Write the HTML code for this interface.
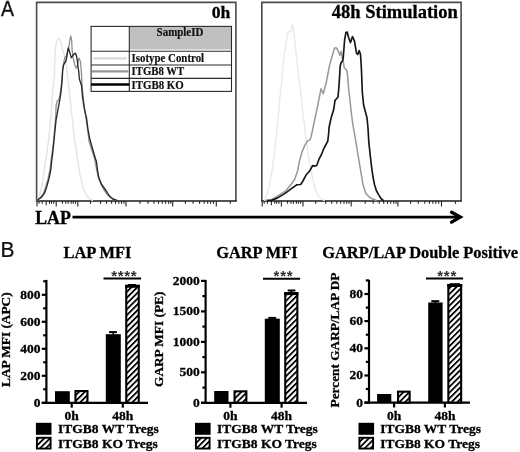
<!DOCTYPE html>
<html><head><meta charset="utf-8"><title>Figure</title>
<style>
html,body{margin:0;padding:0;background:#fff;}
body{width:520px;height:452px;overflow:hidden;}
svg{display:block;}
</style></head>
<body>
<svg width="520" height="452" viewBox="0 0 520 452">
<defs>
<pattern id="hatch" patternUnits="userSpaceOnUse" width="4.1" height="4.1" patternTransform="rotate(45)">
<rect x="0" y="0" width="4.1" height="4.1" fill="#fff"/>
<rect x="0" y="0" width="1.8" height="4.1" fill="#000"/>
</pattern>
</defs>
<rect width="520" height="452" fill="#fff"/>
<text transform="translate(1.0,15.9) scale(0.92,1)" font-family="'Liberation Sans', Arial, sans-serif" font-size="21.2" fill="#111" stroke="#111" stroke-width="0.35">A</text>
<path d="M36.6,201.2 V2.4 H235.9 V201.2" fill="none" stroke="#4a4a4a" stroke-width="1.6"/>
<line x1="36.2" y1="201.1" x2="236.6" y2="201.1" stroke="#1a1a1a" stroke-width="1.5"/>
<g stroke="#262626" stroke-width="1.1"><line x1="37.0" y1="201" x2="37.0" y2="206.6"/>
<line x1="39.0" y1="201" x2="39.0" y2="203.8"/>
<line x1="42.2" y1="201" x2="42.2" y2="203.8"/>
<line x1="46.2" y1="201" x2="46.2" y2="205.2"/>
<line x1="49.5" y1="201" x2="49.5" y2="203.8"/>
<line x1="51.5" y1="201" x2="51.5" y2="203.8"/>
<line x1="53.7" y1="201" x2="53.7" y2="203.8"/>
<line x1="56.2" y1="201" x2="56.2" y2="206.6"/>
<line x1="62.4" y1="201" x2="62.4" y2="203.8"/>
<line x1="65.8" y1="201" x2="65.8" y2="203.8"/>
<line x1="68.2" y1="201" x2="68.2" y2="203.8"/>
<line x1="71.2" y1="201" x2="71.2" y2="203.8"/>
<line x1="73.2" y1="201" x2="73.2" y2="203.8"/>
<line x1="75.5" y1="201" x2="75.5" y2="203.8"/>
<line x1="77.8" y1="201" x2="77.8" y2="206.6"/>
<line x1="90.5" y1="201" x2="90.5" y2="203.8"/>
<line x1="100.5" y1="201" x2="100.5" y2="203.8"/>
<line x1="106.5" y1="201" x2="106.5" y2="203.8"/>
<line x1="111.6" y1="201" x2="111.6" y2="203.8"/>
<line x1="115.5" y1="201" x2="115.5" y2="203.8"/>
<line x1="118.8" y1="201" x2="118.8" y2="203.8"/>
<line x1="121.5" y1="201" x2="121.5" y2="203.8"/>
<line x1="123.9" y1="201" x2="123.9" y2="203.8"/>
<line x1="126.0" y1="201" x2="126.0" y2="206.6"/>
<line x1="140.0" y1="201" x2="140.0" y2="203.8"/>
<line x1="148.0" y1="201" x2="148.0" y2="203.8"/>
<line x1="154.0" y1="201" x2="154.0" y2="203.8"/>
<line x1="158.5" y1="201" x2="158.5" y2="203.8"/>
<line x1="162.3" y1="201" x2="162.3" y2="203.8"/>
<line x1="165.5" y1="201" x2="165.5" y2="203.8"/>
<line x1="168.6" y1="201" x2="168.6" y2="203.8"/>
<line x1="170.8" y1="201" x2="170.8" y2="203.8"/>
<line x1="172.7" y1="201" x2="172.7" y2="206.6"/>
<line x1="185.4" y1="201" x2="185.4" y2="203.8"/>
<line x1="193.1" y1="201" x2="193.1" y2="203.8"/>
<line x1="199.6" y1="201" x2="199.6" y2="203.8"/>
<line x1="204.2" y1="201" x2="204.2" y2="203.8"/>
<line x1="207.7" y1="201" x2="207.7" y2="203.8"/>
<line x1="210.6" y1="201" x2="210.6" y2="203.8"/>
<line x1="213.5" y1="201" x2="213.5" y2="203.8"/>
<line x1="216.3" y1="201" x2="216.3" y2="206.6"/>
<line x1="230.3" y1="201" x2="230.3" y2="203.8"/></g>
<path d="M261.8,201.2 V2.4 H461.1 V201.2" fill="none" stroke="#4a4a4a" stroke-width="1.6"/>
<line x1="261.4" y1="201.1" x2="461.8" y2="201.1" stroke="#1a1a1a" stroke-width="1.5"/>
<g stroke="#262626" stroke-width="1.1"><line x1="262.2" y1="201" x2="262.2" y2="206.6"/>
<line x1="264.2" y1="201" x2="264.2" y2="203.8"/>
<line x1="267.4" y1="201" x2="267.4" y2="203.8"/>
<line x1="271.4" y1="201" x2="271.4" y2="205.2"/>
<line x1="274.7" y1="201" x2="274.7" y2="203.8"/>
<line x1="276.7" y1="201" x2="276.7" y2="203.8"/>
<line x1="278.9" y1="201" x2="278.9" y2="203.8"/>
<line x1="281.4" y1="201" x2="281.4" y2="206.6"/>
<line x1="287.6" y1="201" x2="287.6" y2="203.8"/>
<line x1="291.0" y1="201" x2="291.0" y2="203.8"/>
<line x1="293.4" y1="201" x2="293.4" y2="203.8"/>
<line x1="296.4" y1="201" x2="296.4" y2="203.8"/>
<line x1="298.4" y1="201" x2="298.4" y2="203.8"/>
<line x1="300.7" y1="201" x2="300.7" y2="203.8"/>
<line x1="303.0" y1="201" x2="303.0" y2="206.6"/>
<line x1="315.7" y1="201" x2="315.7" y2="203.8"/>
<line x1="325.7" y1="201" x2="325.7" y2="203.8"/>
<line x1="331.7" y1="201" x2="331.7" y2="203.8"/>
<line x1="336.8" y1="201" x2="336.8" y2="203.8"/>
<line x1="340.7" y1="201" x2="340.7" y2="203.8"/>
<line x1="344.0" y1="201" x2="344.0" y2="203.8"/>
<line x1="346.7" y1="201" x2="346.7" y2="203.8"/>
<line x1="349.1" y1="201" x2="349.1" y2="203.8"/>
<line x1="351.2" y1="201" x2="351.2" y2="206.6"/>
<line x1="365.2" y1="201" x2="365.2" y2="203.8"/>
<line x1="373.2" y1="201" x2="373.2" y2="203.8"/>
<line x1="379.2" y1="201" x2="379.2" y2="203.8"/>
<line x1="383.7" y1="201" x2="383.7" y2="203.8"/>
<line x1="387.5" y1="201" x2="387.5" y2="203.8"/>
<line x1="390.7" y1="201" x2="390.7" y2="203.8"/>
<line x1="393.8" y1="201" x2="393.8" y2="203.8"/>
<line x1="396.0" y1="201" x2="396.0" y2="203.8"/>
<line x1="397.9" y1="201" x2="397.9" y2="206.6"/>
<line x1="410.6" y1="201" x2="410.6" y2="203.8"/>
<line x1="418.3" y1="201" x2="418.3" y2="203.8"/>
<line x1="424.8" y1="201" x2="424.8" y2="203.8"/>
<line x1="429.4" y1="201" x2="429.4" y2="203.8"/>
<line x1="432.9" y1="201" x2="432.9" y2="203.8"/>
<line x1="435.8" y1="201" x2="435.8" y2="203.8"/>
<line x1="438.7" y1="201" x2="438.7" y2="203.8"/>
<line x1="441.5" y1="201" x2="441.5" y2="206.6"/>
<line x1="455.5" y1="201" x2="455.5" y2="203.8"/></g>
<polyline points="37.5,200.3 39.0,197.0 41.0,190.0 42.8,181.0 44.2,170.0 45.6,160.0 46.8,155.0 47.4,148.0 48.5,141.0 49.8,128.0 51.0,115.0 52.1,100.0 53.3,85.0 54.4,75.0 54.8,60.0 55.3,50.0 55.8,45.0 56.6,41.7 57.8,39.2 58.8,38.6 60.0,39.5 61.1,43.5 62.4,48.8 64.2,55.0 65.5,60.0 66.5,66.0 67.5,75.0 68.5,85.0 69.8,97.0 71.0,107.0 72.2,118.0 73.5,130.0 74.8,142.0 76.3,150.0 77.5,159.0 78.6,167.0 80.0,175.0 81.0,179.0 83.2,188.0 86.1,194.8 89.0,198.3 92.4,200.3" fill="none" stroke="#e6e6e6" stroke-width="1.5" stroke-linejoin="round" stroke-linecap="round"/>
<polyline points="36.8,200.3 38.0,199.5 40.5,197.5 43.5,193.5 45.7,187.0 48.0,179.0 50.0,169.5 51.0,160.0 52.8,148.0 53.9,138.0 55.0,125.0 55.8,115.0 56.1,106.0 57.2,101.0 58.8,99.9 59.6,97.0 61.0,88.0 61.8,80.0 62.4,72.0 63.3,65.6 64.2,60.3 65.0,57.2 66.4,55.9 67.7,51.5 68.8,47.0 69.9,40.0 70.8,36.0 71.7,40.8 72.1,49.7 73.2,58.5 74.8,64.7 76.1,68.3 77.4,65.6 78.3,60.3 79.2,58.1 80.5,62.1 81.4,72.0 82.0,85.0 83.5,100.0 85.0,112.0 87.0,125.0 89.1,141.5 91.8,150.0 94.5,158.5 96.7,170.0 98.2,177.0 100.5,183.0 104.0,190.0 108.5,196.0 112.5,199.0 116.0,200.4" fill="none" stroke="#8e8e8e" stroke-width="1.3" stroke-linejoin="round" stroke-linecap="round"/>
<polyline points="37.0,200.3 38.3,199.5 41.6,197.1 44.4,193.4 46.7,186.9 49.0,178.6 50.9,169.3 51.8,160.0 52.5,155.0 53.9,141.5 55.2,128.3 56.1,120.0 57.7,110.9 59.4,102.1 61.0,92.1 62.1,81.1 62.7,70.0 63.3,65.6 64.6,63.0 65.9,61.2 66.8,56.8 67.7,50.6 68.3,47.9 69.0,49.7 70.2,54.1 71.4,57.7 72.6,55.9 73.9,54.1 75.5,53.2 76.5,55.9 77.4,61.2 78.1,67.4 78.8,72.0 79.3,78.8 81.5,85.5 82.6,97.7 84.3,108.7 85.8,115.0 86.5,117.6 87.8,128.3 89.8,138.9 92.4,148.2 95.1,157.5 96.5,162.0 97.6,170.7 98.8,177.6 101.6,184.5 106.0,190.5 109.5,196.0 113.0,199.0 117.0,200.4" fill="none" stroke="#2a2a2a" stroke-width="1.35" stroke-linejoin="round" stroke-linecap="round"/>
<polyline points="264.5,200.3 266.5,195.0 268.6,188.8 270.5,179.0 272.6,167.5 274.5,151.0 276.6,133.0 278.5,113.0 280.0,97.0 281.4,85.0 282.4,72.0 283.4,62.0 284.2,55.0 285.8,45.6 287.0,37.0 287.7,33.0 288.6,31.8 291.3,31.3 292.4,24.1 293.5,28.0 294.7,40.1 295.8,51.1 296.9,62.2 298.0,72.0 299.1,80.0 301.0,95.0 303.1,114.5 305.0,130.0 307.1,146.3 309.0,159.0 311.1,170.2 313.0,180.0 315.0,188.8 317.0,193.5 319.0,196.7 321.5,198.8 324.3,200.3" fill="none" stroke="#eaeaea" stroke-width="1.5" stroke-linejoin="round" stroke-linecap="round"/>
<polyline points="266.0,200.3 271.5,199.6 276.2,196.9 281.9,193.5 286.5,190.0 291.2,184.2 294.6,179.6 297.7,170.5 299.3,161.7 301.9,152.4 304.6,145.8 307.2,141.2 309.9,139.8 311.2,136.5 313.9,123.3 315.5,116.0 317.2,108.1 319.4,97.1 321.0,88.8 323.2,93.8 326.0,83.8 327.7,75.0 329.3,66.3 330.5,62.0 332.6,54.5 334.6,47.9 336.6,47.9 338.6,51.9 339.9,55.2 341.2,51.2 341.9,55.8 343.2,61.2 344.2,67.7 346.8,70.4 347.7,76.5 348.7,90.0 349.5,96.0 351.2,112.0 352.5,122.0 354.0,131.0 355.9,141.9 358.0,155.0 360.2,167.8 363.1,185.0 366.0,193.7 370.3,198.0 376.0,200.3" fill="none" stroke="#979797" stroke-width="1.5" stroke-linejoin="round" stroke-linecap="round"/>
<polyline points="268.0,200.5 271.5,200.2 277.3,198.1 283.1,194.6 288.8,190.6 293.5,187.1 296.9,184.8 300.6,184.5 302.9,181.0 306.3,174.7 309.8,170.7 312.7,165.5 314.4,166.1 316.7,165.5 319.0,159.2 321.5,154.5 323.8,148.5 327.8,141.2 328.6,134.0 329.1,127.2 331.1,118.0 333.8,109.0 335.0,100.4 336.5,98.8 338.0,97.0 338.8,88.0 339.5,78.0 340.2,66.0 341.2,62.5 342.5,61.0 343.3,57.0 344.6,40.0 345.9,32.6 347.2,32.0 348.5,37.3 350.5,42.6 352.5,36.6 354.5,41.2 356.5,53.2 357.8,54.5 359.2,50.5 360.5,54.5 361.2,65.0 361.8,78.0 362.3,92.0 363.6,105.0 365.5,112.0 367.0,118.0 368.0,128.0 368.8,141.9 370.2,155.0 371.7,167.8 373.0,177.0 374.6,185.0 376.5,191.0 378.9,195.1 381.0,198.5 383.2,200.3" fill="none" stroke="#151515" stroke-width="1.65" stroke-linejoin="round" stroke-linecap="round"/>
<rect x="130" y="27" width="101" height="23" fill="#c0c0c0"/>
<line x1="130" y1="49.9" x2="231" y2="49.9" stroke="#fff" stroke-width="0.8"/>
<g stroke="#2a2a2a" stroke-width="1.1" fill="none"><rect x="91.1" y="26.4" width="140.4" height="65"/><line x1="129.3" y1="26.4" x2="129.3" y2="91.4"/><line x1="91.1" y1="51.3" x2="231.5" y2="51.3"/><line x1="91.1" y1="65" x2="231.5" y2="65"/><line x1="91.1" y1="78.4" x2="231.5" y2="78.4"/></g>
<line x1="93.4" y1="58.3" x2="126.8" y2="58.3" stroke="#d8d8d8" stroke-width="2.2"/>
<line x1="91.8" y1="71.4" x2="128.4" y2="71.4" stroke="#959595" stroke-width="2.2"/>
<line x1="91" y1="84.5" x2="129.3" y2="84.5" stroke="#000" stroke-width="2.4"/>
<g font-family="'Liberation Serif', 'Times New Roman', serif" font-weight="bold" font-size="11.7" fill="#111" stroke="#111" stroke-width="0.2"><text x="156.6" y="35.8" textLength="46.8" lengthAdjust="spacingAndGlyphs">SampleID</text><text x="131.5" y="62" textLength="72.6" lengthAdjust="spacingAndGlyphs">Isotype Control</text><text x="131.5" y="75.4" textLength="52.8" lengthAdjust="spacingAndGlyphs">ITGB8 WT</text><text x="131.5" y="88.7" textLength="52.2" lengthAdjust="spacingAndGlyphs">ITGB8 KO</text></g>
<g font-family="'Liberation Serif', 'Times New Roman', serif" font-weight="bold" font-size="18.5" fill="#000" stroke="#000" stroke-width="0.3"><text x="230.4" y="17.8" text-anchor="end" font-size="17.6">0h</text><text x="331.8" y="17.9">48h Stimulation</text></g>
<text x="35.2" y="223.7" font-family="'Liberation Serif', 'Times New Roman', serif" font-weight="bold" font-size="17.8" fill="#000" stroke="#000" stroke-width="0.3">LAP</text>
<line x1="72.5" y1="217.1" x2="459" y2="217.1" stroke="#000" stroke-width="2.9"/>
<polyline points="451.6,212.3 460.2,217.1 451.6,222.1" fill="none" stroke="#000" stroke-width="3.4" stroke-linecap="round" stroke-linejoin="miter"/>
<text transform="translate(0.5,257.3) scale(0.99,1)" font-family="'Liberation Sans', Arial, sans-serif" font-size="21.2" fill="#111" stroke="#111" stroke-width="0.25">B</text>
<g font-family="'Liberation Serif', 'Times New Roman', serif" font-weight="bold" font-size="16.4" fill="#000" stroke="#000" stroke-width="0.3" text-anchor="middle"><text x="97.5" y="257.9">LAP MFI</text><text x="256.9" y="257.6">GARP MFI</text><text x="420.1" y="257.7">GARP/LAP Double Positive</text></g>
<g stroke="#000" stroke-width="2.2" fill="none">
<line x1="46.4" y1="279.9" x2="46.4" y2="403.9"/>
<line x1="41.8" y1="402.8" x2="148.0" y2="402.8"/>
<line x1="41.8" y1="294.8" x2="46.4" y2="294.8"/>
<line x1="41.8" y1="321.8" x2="46.4" y2="321.8"/>
<line x1="41.8" y1="348.8" x2="46.4" y2="348.8"/>
<line x1="41.8" y1="375.8" x2="46.4" y2="375.8"/>
<line x1="41.8" y1="402.8" x2="46.4" y2="402.8"/>
<line x1="43.2" y1="281.3" x2="46.4" y2="281.3"/>
<line x1="43.2" y1="308.3" x2="46.4" y2="308.3"/>
<line x1="43.2" y1="335.3" x2="46.4" y2="335.3"/>
<line x1="43.2" y1="362.3" x2="46.4" y2="362.3"/>
<line x1="43.2" y1="389.3" x2="46.4" y2="389.3"/>
<line x1="71.7" y1="402.8" x2="71.7" y2="407.7"/>
<line x1="122.8" y1="402.8" x2="122.8" y2="407.7"/>
</g>
<g font-family="'Liberation Serif', 'Times New Roman', serif" font-weight="bold" font-size="13.5" fill="#000" stroke="#000" stroke-width="0.3">
<text x="40.5" y="298.7" text-anchor="end">800</text>
<text x="40.5" y="325.7" text-anchor="end">600</text>
<text x="40.5" y="352.7" text-anchor="end">400</text>
<text x="40.5" y="379.7" text-anchor="end">200</text>
<text x="40.5" y="406.7" text-anchor="end">0</text>
<text x="71.7" y="420.1" text-anchor="middle">0h</text>
<text x="122.8" y="420.1" text-anchor="middle">48h</text>
<text transform="translate(10.4,339.7) rotate(-90)" text-anchor="middle" font-size="13.3">LAP MFI (APC)</text>
<text x="58.0" y="433.1">ITGB8 WT Tregs</text>
<text x="58.0" y="447.5">ITGB8 KO Tregs</text>
</g>
<rect x="55.0" y="391.2" width="14.8" height="11.6" fill="#000"/>
<rect x="75.45" y="391.05" width="12.00" height="11.75" fill="url(#hatch)" stroke="#000" stroke-width="2.1"/>
<rect x="105.8" y="334.2" width="15.0" height="68.6" fill="#000"/>
<line x1="113.3" y1="332.1" x2="113.3" y2="335.2" stroke="#000" stroke-width="1.6"/>
<line x1="109.1" y1="332.1" x2="116.9" y2="332.1" stroke="#000" stroke-width="2.0"/>
<rect x="126.25" y="285.85" width="12.50" height="116.95" fill="url(#hatch)" stroke="#000" stroke-width="2.1"/>
<line x1="132.5" y1="285.0" x2="132.5" y2="285.8" stroke="#000" stroke-width="1.6"/>
<line x1="128.1" y1="285.0" x2="135.9" y2="285.0" stroke="#000" stroke-width="2.0"/>
<line x1="125.2" y1="286.3" x2="139.8" y2="286.3" stroke="#000" stroke-width="3"/>
<line x1="103.5" y1="278.5" x2="141.1" y2="278.5" stroke="#000" stroke-width="2"/>
<text x="111.2" y="280.5" font-family="'Liberation Sans', Arial, sans-serif" font-weight="bold" font-size="15" letter-spacing="0.66" fill="#2e2e2e">****</text>
<rect x="35.9" y="422.8" width="15.6" height="12" fill="#000"/>
<rect x="36.9" y="437.75" width="13.7" height="10.8" fill="url(#hatch)" stroke="#000" stroke-width="1.9"/>
<g stroke="#000" stroke-width="2.2" fill="none">
<line x1="205.6" y1="279.9" x2="205.6" y2="403.9"/>
<line x1="201.0" y1="402.8" x2="307.0" y2="402.8"/>
<line x1="201.0" y1="280.9" x2="205.6" y2="280.9"/>
<line x1="201.0" y1="311.4" x2="205.6" y2="311.4"/>
<line x1="201.0" y1="341.9" x2="205.6" y2="341.9"/>
<line x1="201.0" y1="372.3" x2="205.6" y2="372.3"/>
<line x1="201.0" y1="402.8" x2="205.6" y2="402.8"/>
<line x1="202.4" y1="296.1" x2="205.6" y2="296.1"/>
<line x1="202.4" y1="326.6" x2="205.6" y2="326.6"/>
<line x1="202.4" y1="357.1" x2="205.6" y2="357.1"/>
<line x1="202.4" y1="387.6" x2="205.6" y2="387.6"/>
<line x1="230.4" y1="402.8" x2="230.4" y2="407.7"/>
<line x1="281.6" y1="402.8" x2="281.6" y2="407.7"/>
</g>
<g font-family="'Liberation Serif', 'Times New Roman', serif" font-weight="bold" font-size="13.5" fill="#000" stroke="#000" stroke-width="0.3">
<text x="199.7" y="284.8" text-anchor="end">2000</text>
<text x="199.7" y="315.3" text-anchor="end">1500</text>
<text x="199.7" y="345.8" text-anchor="end">1000</text>
<text x="199.7" y="376.2" text-anchor="end">500</text>
<text x="199.7" y="406.7" text-anchor="end">0</text>
<text x="230.4" y="420.1" text-anchor="middle">0h</text>
<text x="281.6" y="420.1" text-anchor="middle">48h</text>
<text transform="translate(163.4,339.3) rotate(-90)" text-anchor="middle" font-size="13.3">GARP MFI (PE)</text>
<text x="217.0" y="433.1">ITGB8 WT Tregs</text>
<text x="217.0" y="447.5">ITGB8 KO Tregs</text>
</g>
<rect x="214.2" y="391.0" width="14.3" height="11.8" fill="#000"/>
<rect x="234.55" y="391.35" width="11.80" height="11.45" fill="url(#hatch)" stroke="#000" stroke-width="2.1"/>
<rect x="264.8" y="318.7" width="15.0" height="84.1" fill="#000"/>
<line x1="272.3" y1="317.9" x2="272.3" y2="319.7" stroke="#000" stroke-width="1.6"/>
<line x1="268.3" y1="317.9" x2="276.2" y2="317.9" stroke="#000" stroke-width="2.0"/>
<rect x="285.25" y="293.15" width="12.10" height="109.65" fill="url(#hatch)" stroke="#000" stroke-width="2.1"/>
<line x1="291.3" y1="290.5" x2="291.3" y2="293.1" stroke="#000" stroke-width="1.6"/>
<line x1="287.7" y1="290.5" x2="295.4" y2="290.5" stroke="#000" stroke-width="2.0"/>
<line x1="284.2" y1="293.6" x2="298.4" y2="293.6" stroke="#000" stroke-width="3"/>
<line x1="263.0" y1="278.7" x2="300.1" y2="278.7" stroke="#000" stroke-width="2"/>
<text x="273.6" y="280.5" font-family="'Liberation Sans', Arial, sans-serif" font-weight="bold" font-size="15" letter-spacing="0.76" fill="#2e2e2e">***</text>
<rect x="195.0" y="422.8" width="15.6" height="12" fill="#000"/>
<rect x="195.9" y="437.75" width="13.7" height="10.8" fill="url(#hatch)" stroke="#000" stroke-width="1.9"/>
<g stroke="#000" stroke-width="2.2" fill="none">
<line x1="369.0" y1="279.9" x2="369.0" y2="403.7"/>
<line x1="364.4" y1="402.6" x2="470.0" y2="402.6"/>
<line x1="364.4" y1="294.0" x2="369.0" y2="294.0"/>
<line x1="364.4" y1="321.1" x2="369.0" y2="321.1"/>
<line x1="364.4" y1="348.3" x2="369.0" y2="348.3"/>
<line x1="364.4" y1="375.5" x2="369.0" y2="375.5"/>
<line x1="364.4" y1="402.6" x2="369.0" y2="402.6"/>
<line x1="365.8" y1="280.4" x2="369.0" y2="280.4"/>
<line x1="365.8" y1="307.6" x2="369.0" y2="307.6"/>
<line x1="365.8" y1="334.7" x2="369.0" y2="334.7"/>
<line x1="365.8" y1="361.9" x2="369.0" y2="361.9"/>
<line x1="365.8" y1="389.0" x2="369.0" y2="389.0"/>
<line x1="394.1" y1="402.6" x2="394.1" y2="407.5"/>
<line x1="444.9" y1="402.6" x2="444.9" y2="407.5"/>
</g>
<g font-family="'Liberation Serif', 'Times New Roman', serif" font-weight="bold" font-size="13.5" fill="#000" stroke="#000" stroke-width="0.3">
<text x="363.1" y="297.9" text-anchor="end">80</text>
<text x="363.1" y="325.0" text-anchor="end">60</text>
<text x="363.1" y="352.2" text-anchor="end">40</text>
<text x="363.1" y="379.4" text-anchor="end">20</text>
<text x="363.1" y="406.5" text-anchor="end">0</text>
<text x="394.1" y="420.1" text-anchor="middle">0h</text>
<text x="444.9" y="420.1" text-anchor="middle">48h</text>
<text transform="translate(339.3,340.0) rotate(-90)" text-anchor="middle" font-size="13.3">Percent GARP/LAP DP</text>
<text x="380.2" y="433.1">ITGB8 WT Tregs</text>
<text x="380.2" y="447.5">ITGB8 KO Tregs</text>
</g>
<rect x="377.1" y="394.0" width="14.2" height="8.6" fill="#000"/>
<rect x="398.05" y="391.65" width="11.60" height="10.95" fill="url(#hatch)" stroke="#000" stroke-width="2.1"/>
<rect x="428.2" y="302.5" width="14.4" height="100.1" fill="#000"/>
<line x1="435.4" y1="301.2" x2="435.4" y2="303.5" stroke="#000" stroke-width="1.6"/>
<line x1="431.3" y1="301.2" x2="439.3" y2="301.2" stroke="#000" stroke-width="2.0"/>
<rect x="448.35" y="285.05" width="12.80" height="117.55" fill="url(#hatch)" stroke="#000" stroke-width="2.1"/>
<line x1="454.8" y1="284.2" x2="454.8" y2="285.0" stroke="#000" stroke-width="1.6"/>
<line x1="449.6" y1="284.2" x2="460.0" y2="284.2" stroke="#000" stroke-width="2.0"/>
<line x1="447.3" y1="285.5" x2="462.2" y2="285.5" stroke="#000" stroke-width="3"/>
<line x1="426.0" y1="278.6" x2="463.1" y2="278.6" stroke="#000" stroke-width="2"/>
<text x="437.3" y="280.5" font-family="'Liberation Sans', Arial, sans-serif" font-weight="bold" font-size="15" letter-spacing="0.71" fill="#2e2e2e">***</text>
<rect x="358.5" y="422.8" width="15.6" height="12" fill="#000"/>
<rect x="359.4" y="437.75" width="13.7" height="10.8" fill="url(#hatch)" stroke="#000" stroke-width="1.9"/>
</svg>
</body></html>
